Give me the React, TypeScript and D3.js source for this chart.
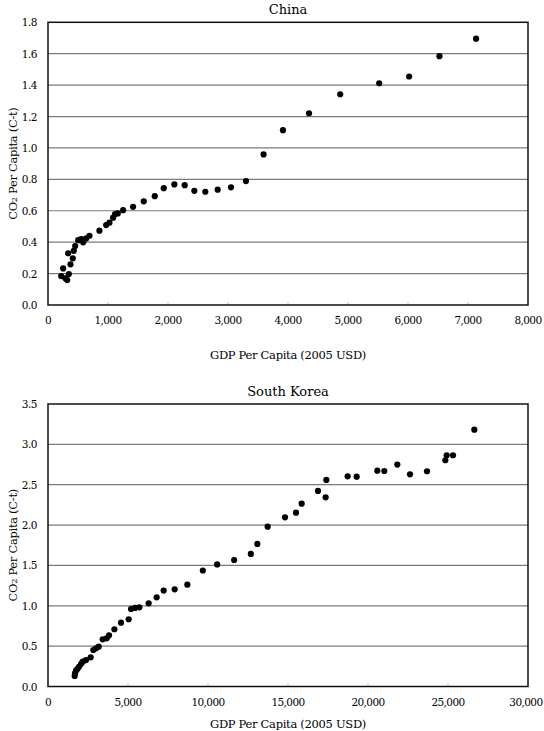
import { useEffect, useRef } from "react";
import * as d3 from "d3";

// China: GDP per capita (2005 USD) vs CO2 per capita (C-t)
const chinaGdp = [
  220, 253, 290, 320, 347, 336, 375, 413, 430, 453, 503, 553, 586, 636, 691,
  857, 969, 1024, 1085, 1118, 1163, 1252, 1418, 1596, 1779, 1929, 2106, 2278,
  2439, 2622, 2828, 3050, 3300, 3593, 3916, 4350, 4870, 5520, 6019, 6524, 7135,
];
const chinaCo2 = [
  0.184, 0.233, 0.17, 0.159, 0.197, 0.329, 0.259, 0.297, 0.345, 0.375, 0.413,
  0.42, 0.399, 0.424, 0.441, 0.473, 0.509, 0.524, 0.556, 0.579, 0.583, 0.604,
  0.625, 0.66, 0.693, 0.744, 0.768, 0.763, 0.727, 0.721, 0.734, 0.749, 0.789,
  0.959, 1.113, 1.221, 1.342, 1.412, 1.455, 1.584, 1.696,
];

// South Korea
const koreaGdp = [
  1667, 1688, 1750, 1833, 1938, 2063, 2167, 2375, 2667, 2833, 3000, 3167, 3417,
  3667, 3813, 4150, 4563, 5042, 5188, 5438, 5708, 6292, 6792, 7229, 7917, 8708,
  9677, 10573, 11635, 12677, 13083, 13729, 14813, 15500, 15854, 16875, 17354,
  17396, 18729, 19292, 20583, 21021, 21833, 22625, 23688, 24833, 24917, 25313,
  26646,
];
const koreaCo2 = [
  0.13, 0.164, 0.196, 0.217, 0.245, 0.279, 0.307, 0.328, 0.362, 0.452, 0.473,
  0.493, 0.585, 0.597, 0.634, 0.709, 0.791, 0.833, 0.96, 0.973, 0.981, 1.031,
  1.105, 1.188, 1.204, 1.262, 1.437, 1.512, 1.567, 1.642, 1.766, 1.98, 2.096,
  2.154, 2.265, 2.423, 2.344, 2.559, 2.604, 2.6, 2.674, 2.67, 2.749, 2.629,
  2.667, 2.803, 2.865, 2.865, 3.182,
];

const chinaXTicks = [0, 1000, 2000, 3000, 4000, 5000, 6000, 7000, 8000];
const chinaYTicks = [0, 0.2, 0.4, 0.6, 0.8, 1.0, 1.2, 1.4, 1.6, 1.8];
const koreaXTicks = [0, 5000, 10000, 15000, 20000, 25000, 30000];
const koreaYTicks = [0, 0.5, 1.0, 1.5, 2.0, 2.5, 3.0, 3.5];

const FONT = "DejaVu Serif, Liberation Serif, serif";
const W = 544;

interface PanelProps {
  title: string;
  gdp: number[];
  co2: number[];
  xTicks: number[];
  yTicks: number[];
  top: number;
  bottom: number;
  xLabelGap: number;
}

function Panel({ title, gdp, co2, xTicks, yTicks, top, bottom, xLabelGap }: PanelProps) {
  const ref = useRef<SVGGElement>(null);

  useEffect(() => {
    if (!ref.current) return;
    const g = d3.select(ref.current);
    g.selectAll("*").remove();

    const left = 48, right = 528;
    const x = d3.scaleLinear().domain([0, xTicks[xTicks.length - 1]]).range([left, right]);
    const y = d3.scaleLinear().domain([0, yTicks[yTicks.length - 1]]).range([bottom, top]);
    const cx = (left + right) / 2;

    // gridlines
    g.selectAll("line.grid").data(yTicks.slice(1, -1)).enter().append("line")
      .attr("x1", left).attr("x2", right)
      .attr("y1", (d) => y(d)).attr("y2", (d) => y(d))
      .attr("stroke", "#7a7a7a").attr("stroke-width", 1.2);

    // small tick marks on x axis
    g.selectAll("line.xt").data(xTicks.slice(1, -1)).enter().append("line")
      .attr("x1", (d) => x(d)).attr("x2", (d) => x(d))
      .attr("y1", bottom).attr("y2", bottom - 3)
      .attr("stroke", "#bbb").attr("stroke-width", 1);

    // frame
    g.append("rect").attr("x", left).attr("y", top)
      .attr("width", right - left).attr("height", bottom - top)
      .attr("fill", "none").attr("stroke", "#111").attr("stroke-width", 1.5);

    // points
    g.selectAll("circle").data(gdp).enter().append("circle")
      .attr("cx", (d) => x(d)).attr("cy", (_, i) => y(co2[i]))
      .attr("r", 3.1).attr("fill", "#000");

    // tick labels
    const fmt = d3.format(",");
    g.selectAll("text.xl").data(xTicks).enter().append("text")
      .attr("x", (d) => x(d)).attr("y", bottom + 19)
      .attr("text-anchor", "middle").attr("font-family", FONT).attr("font-size", 10.5)
      .attr("letter-spacing", -0.6)
      .text((d) => fmt(d))
      .each(function (d) {
        // keep the last label inside the page
        const el = this as SVGTextElement;
        const half = el.getComputedTextLength() / 2;
        if (x(d) + half > W - 1.5) el.setAttribute("x", String(W - 1.5 - half));
      });
    g.selectAll("text.yl").data(yTicks).enter().append("text")
      .attr("x", 37).attr("y", (d) => y(d) + 4)
      .attr("text-anchor", "end").attr("font-family", FONT).attr("font-size", 10.5)
      .attr("letter-spacing", -0.5)
      .text((d) => d.toFixed(1));

    // title
    g.append("text").attr("x", cx).attr("y", top - 8).attr("text-anchor", "middle")
      .attr("font-family", FONT).attr("font-size", 13).text(title);

    // x axis title
    g.append("text").attr("x", cx).attr("y", bottom + xLabelGap).attr("text-anchor", "middle")
      .attr("font-family", FONT).attr("font-size", 11.5).attr("letter-spacing", -0.3)
      .text("GDP Per Capita (2005 USD)");

    // y axis title
    const yl = g.append("text")
      .attr("transform", `translate(17,${(top + bottom) / 2}) rotate(-90)`)
      .attr("text-anchor", "middle").attr("font-family", FONT).attr("font-size", 11.5)
      .attr("letter-spacing", -0.3);
    yl.append("tspan").text("CO");
    yl.append("tspan").attr("font-size", 8).text("2");
    yl.append("tspan").text(" Per Capita (C-t)");
  }, [title, gdp, co2, xTicks, yTicks, top, bottom, xLabelGap]);

  return <g ref={ref} />;
}

export default function App() {
  return (
    <svg width={W} height={731}
      style={{ position: "absolute", left: 0, top: 0, background: "#fff" }}>
      <Panel title="China" gdp={chinaGdp} co2={chinaCo2} xLabelGap={54}
        xTicks={chinaXTicks} yTicks={chinaYTicks} top={22.3} bottom={305} />
      <Panel title="South Korea" gdp={koreaGdp} co2={koreaCo2} xLabelGap={41}
        xTicks={koreaXTicks} yTicks={koreaYTicks} top={404} bottom={686.5} />
    </svg>
  );
}
